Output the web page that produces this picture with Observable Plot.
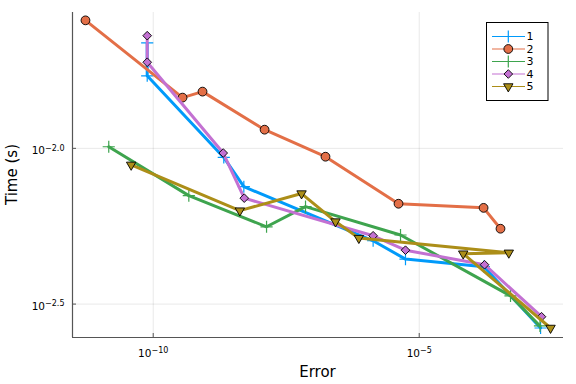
<!DOCTYPE html>
<html><head><meta charset="utf-8">
<script src="https://cdn.jsdelivr.net/npm/d3@7"></script>
<script src="https://cdn.jsdelivr.net/npm/@observablehq/plot@0.6"></script>
<style>body{margin:0;background:#fff}svg{display:block}</style>
</head><body><div id="chart"></div>
<script>
// ---- data ----
const seriesNames = ["1", "2", "3", "4", "5"];
const seriesColors = ["#009AFA", "#E36F47", "#3EA44E", "#C371D2", "#AC8E18"];

const err1  = [7.71e-11, 7.71e-11, 2.12e-9, 5.05e-9, 1.36e-6, 5.52e-6, 1.64e-4, 1.91e-3];
const time1 = [2.18e-2, 1.71e-2, 9.35e-3, 7.53e-3, 5.05e-3, 4.41e-3, 4.17e-3, 2.65e-3];

const err2  = [5.33e-12, 3.56e-10, 8.45e-10, 1.24e-8, 1.73e-7, 4.08e-6, 1.62e-4, 3.37e-4];
const time2 = [2.576e-2, 1.455e-2, 1.521e-2, 1.148e-2, 9.40e-3, 6.64e-3, 6.44e-3, 5.52e-3];

const err3  = [1.46e-11, 4.67e-10, 1.35e-8, 7.29e-8, 4.45e-6, 5.20e-4, 1.86e-3];
const time3 = [1.012e-2, 7.05e-3, 5.60e-3, 6.50e-3, 5.27e-3, 3.36e-3, 2.69e-3];

const err4  = [7.71e-11, 7.71e-11, 2.07e-9, 5.14e-9, 1.36e-6, 5.52e-6, 1.69e-4, 1.99e-3];
const time4 = [2.30e-2, 1.89e-2, 9.66e-3, 6.92e-3, 5.24e-3, 4.71e-3, 4.23e-3, 2.88e-3];

const err5  = [3.85e-11, 4.25e-9, 6.14e-8, 2.67e-7, 7.33e-7, 4.83e-4, 6.71e-5, 2.94e-3];
const time5 = [8.85e-3, 6.31e-3, 7.16e-3, 5.82e-3, 5.15e-3, 4.62e-3, 4.59e-3, 2.65e-3];

const xDomain = [3.04e-12, 5.15e-3];
const yDomain = [2.47e-3, 2.73e-2];
const xTicks = [1e-10, 1e-5];
const xTickExps = ["\u221210", "\u22125"];
const yTicks = [1e-2, 3.1623e-3];
const yTickExps = ["\u22122.0", "\u22122.5"];
const xLabel = "Error";
const yLabel = "Time (s)";

// ---- layout ----
const W = 576, H = 384;
const mL = 72, mR = 13, mT = 12, mB = 47;
const plotW = W - mL - mR, plotH = H - mT - mB;
const FONT = "DejaVu Sans, sans-serif";

const errs = [err1, err2, err3, err4, err5];
const times = [time1, time2, time3, time4, time5];
const markers = [
  {symbol: "plus", r: 4, strokeFromColor: true, rotate: 0},
  {symbol: "circle", r: 4.4, strokeFromColor: false, rotate: 0},
  {symbol: "plus", r: 4, strokeFromColor: true, rotate: 0},
  {symbol: "diamond2", r: 3.9, strokeFromColor: false, rotate: 0},
  {symbol: "triangle", r: 3.5, strokeFromColor: false, rotate: 180}
];

const rowsBySeries = seriesNames.map((name, i) =>
  errs[i].map((e, j) => ({series: name, err: e, time: times[i][j]})));

const seriesMarks = [];
rowsBySeries.forEach((rows, i) => {
  const c = seriesColors[i], m = markers[i];
  seriesMarks.push(Plot.line(rows, {x: "err", y: "time", stroke: c, strokeWidth: 3, strokeLinejoin: "round", strokeLinecap: "round"}));
  seriesMarks.push(Plot.dot(rows, {
    x: "err", y: "time", symbol: m.symbol, r: m.r, rotate: m.rotate,
    fill: m.strokeFromColor ? "none" : c,
    stroke: m.strokeFromColor ? c : "#000",
    strokeWidth: m.strokeFromColor ? 1.2 : 0.9
  }));
});

const svg = Plot.plot({
  width: W, height: H,
  marginLeft: mL, marginRight: mR, marginTop: mT, marginBottom: mB,
  style: {fontFamily: FONT, background: "#fff"},
  x: {type: "log", domain: xDomain},
  y: {type: "log", domain: yDomain},
  marks: [
    Plot.ruleX(xTicks, {x: d => d, stroke: "#000", strokeOpacity: 0.09, strokeWidth: 1}),
    Plot.ruleY(yTicks, {y: d => d, stroke: "#000", strokeOpacity: 0.09, strokeWidth: 1}),
    Plot.ruleX([xDomain[0]], {x: d => d, stroke: "#555", strokeWidth: 1.2}),
    Plot.ruleY([yDomain[0]], {y: d => d, stroke: "#555", strokeWidth: 1.2}),
    Plot.tickX(xTicks, {x: d => d, insetTop: plotH - 4, stroke: "#555", strokeWidth: 1}),
    Plot.tickY(yTicks, {y: d => d, insetRight: plotW - 4, stroke: "#555", strokeWidth: 1}),
    Plot.axisX({ticks: xTicks, tickSize: 0, tickPadding: 12, label: null, tickFormat: d => "x" + xTicks.indexOf(d), fill: "#000"}),
    Plot.axisY({ticks: yTicks, tickSize: 0, tickPadding: 8, label: null, tickFormat: d => "y" + yTicks.indexOf(d), fill: "#000"}),
    ...seriesMarks
  ]
});

const root = d3.select(svg);
// superscript tick labels
function supLabel(el, exp) {
  const t = d3.select(el);
  t.text(null).attr("font-size", 10.5).attr("fill", "#000");
  t.append("tspan").text("10");
  t.append("tspan").attr("dy", "-0.45em").attr("font-size", 8).text(exp);
}
root.selectAll('[aria-label="x-axis tick label"] text').each(function () {
  const k = +this.textContent.slice(1);
  supLabel(this, xTickExps[k] ?? "");
});
root.selectAll('[aria-label="y-axis tick label"] text').each(function () {
  const k = +this.textContent.slice(1);
  supLabel(this, yTickExps[k] ?? "");
  d3.select(this).attr("y", "0.55em");
});

// axis titles
root.append("text").attr("x", mL + plotW / 2).attr("y", 377).attr("text-anchor", "middle")
  .attr("font-family", FONT).attr("font-size", 15).attr("fill", "#000").text(xLabel);
root.append("text").attr("transform", `translate(17,${mT + plotH / 2}) rotate(-90)`).attr("text-anchor", "middle")
  .attr("font-family", FONT).attr("font-size", 15).attr("fill", "#000").text(yLabel);

// legend
const lg = root.append("g").attr("font-family", FONT);
lg.append("rect").attr("x", 486.5).attr("y", 22.5).attr("width", 61.5).attr("height", 78)
  .attr("fill", "#fff").attr("stroke", "#000").attr("stroke-width", 1);
const symMap = {plus: d3.symbolPlus, circle: d3.symbolCircle, diamond2: d3.symbolDiamond2, triangle: d3.symbolTriangle};
seriesNames.forEach((name, i) => {
  const y = 36.5 + i * 12.5, c = seriesColors[i], m = markers[i];
  lg.append("line").attr("x1", 492).attr("x2", 525).attr("y1", y).attr("y2", y).attr("stroke", c).attr("stroke-width", 1.2);
  lg.append("path").attr("d", d3.symbol(symMap[m.symbol], Math.PI * m.r * m.r)())
    .attr("transform", `translate(508.3,${y}) rotate(${m.rotate})`)
    .attr("fill", m.strokeFromColor ? "none" : c)
    .attr("stroke", m.strokeFromColor ? c : "#000")
    .attr("stroke-width", m.strokeFromColor ? 1.2 : 0.9);
  lg.append("text").attr("x", 530).attr("y", y).attr("dy", "0.36em").attr("font-size", 11).attr("fill", "#000").text(name);
});

document.getElementById("chart").appendChild(svg);
</script>
</body></html>
